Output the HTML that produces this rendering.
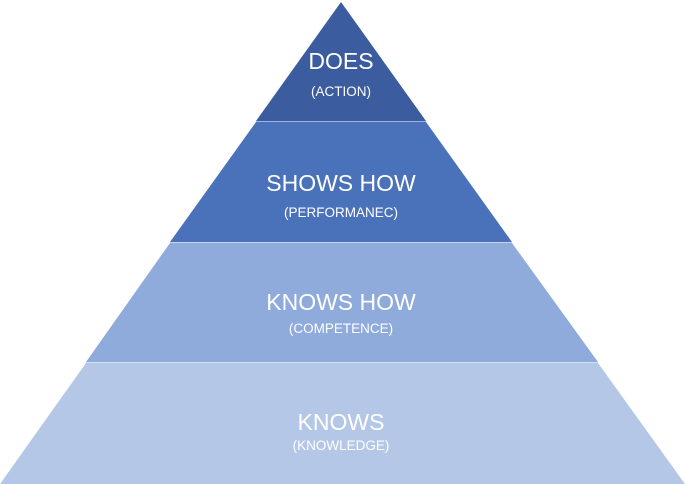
<!DOCTYPE html>
<html><head><style>
html,body{margin:0;padding:0;background:#fff;}
svg{display:block;}
text{font-family:"Liberation Sans",Arial,sans-serif;fill:#fff;text-anchor:middle;}
</style></head><body>
<svg width="685" height="484" viewBox="0 0 685 484">
<polygon points="341,2 426,121 256,121" fill="#3b5c9e"/>
<polygon points="256,122 426,122 512,242 170,242" fill="#4a72bb"/>
<polygon points="170,243 512,243 598,362 86,362" fill="#8fabdc"/>
<polygon points="86,363 598,363 685,484 0,484" fill="#b5c7e6"/>
<line x1="256" y1="121.5" x2="426" y2="121.5" stroke="#9fb4dd" stroke-width="1"/>
<line x1="170" y1="242.5" x2="512" y2="242.5" stroke="#c3d2ee" stroke-width="1"/>
<line x1="86" y1="362.5" x2="598" y2="362.5" stroke="#d5e0f2" stroke-width="1"/>
<text x="341" y="69" font-size="23">DOES</text>
<text x="341" y="96" font-size="13.5">(ACTION)</text>
<text x="341" y="191" font-size="23">SHOWS HOW</text>
<text x="341" y="217" font-size="13.5">(PERFORMANEC)</text>
<text x="341" y="310" font-size="23">KNOWS HOW</text>
<text x="341" y="333" font-size="13.5">(COMPETENCE)</text>
<text x="341" y="430" font-size="23">KNOWS</text>
<text x="341" y="450" font-size="13.5">(KNOWLEDGE)</text>
</svg>
</body></html>
